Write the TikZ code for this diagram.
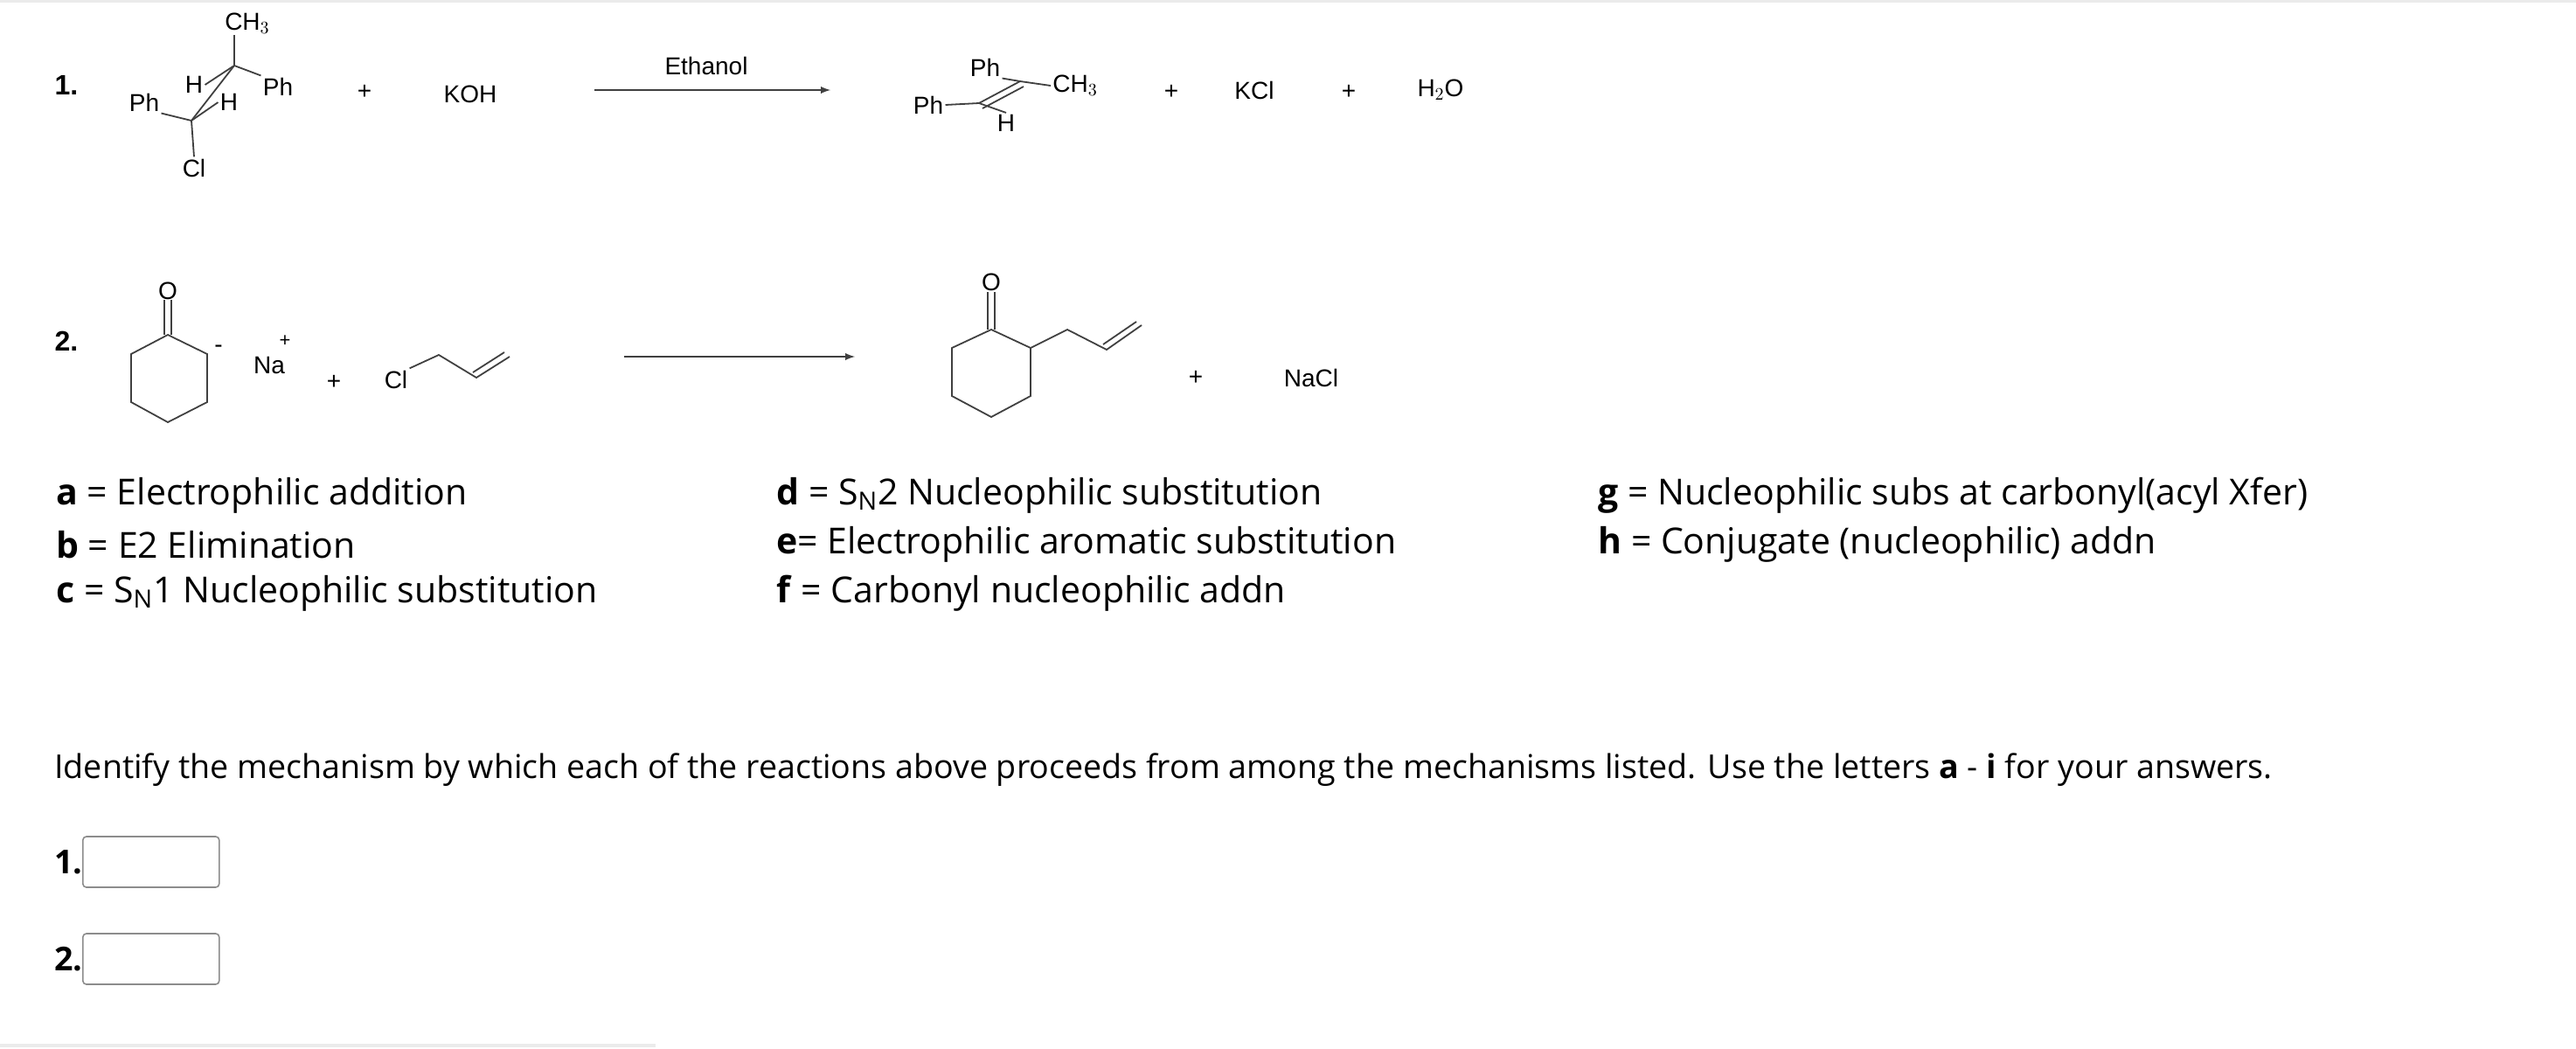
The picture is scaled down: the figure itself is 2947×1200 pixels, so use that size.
\documentclass[tikz,border=0pt]{standalone}
\usepackage{fontspec}
\setmainfont{Open Sans}
\newfontfamily\arial{Liberation Sans}
\begin{document}
\begin{tikzpicture}[x=0.5pt,y=-0.5pt,
  chem/.style={font=\arial\fontsize{14}{16}\selectfont,inner sep=1pt},
  num/.style={font=\arial\bfseries\fontsize{16}{18}\selectfont},
  txt/.style={font=\fontsize{20.5}{24}\selectfont,anchor=west,inner sep=0pt},
  qtxt/.style={font=\fontsize{18.8}{22}\selectfont,anchor=west,inner sep=0pt},
  bond/.style={line width=0.9pt,black!75},
  ansbox/.style={draw=black!45,line width=0.8pt,rounded corners=2pt,minimum width=78pt,minimum height=29pt,inner sep=0pt}]
\useasboundingbox (0,0) rectangle (2947,1200);
\draw[black!8,line width=2pt] (0,1) -- (2947,1);
\draw[black!8,line width=2pt] (0,1196) -- (750,1196);
% Reaction 1
\node[num] (n1) at (76,97) {1.};
\coordinate (c1) at (268,75);
\coordinate (c2) at (219,138);
\node[chem] (me) at (283,27) {CH$_3$};
\node[chem] (ph1) at (165,117) {Ph};
\node[chem] (ph2) at (318,99) {Ph};
\node[chem] (h1) at (222,97) {H};
\node[chem] (h2) at (262,117) {H};
\node[chem] (cl1) at (222,192) {Cl};
\draw[bond] (268,40) -- (c1) -- (c2) -- (cl1.north);
\draw[bond] (c1) -- (ph2.north west);
\draw[bond] (c1) -- (h1.east);
\draw[bond] (c2) -- (ph1.south east);
\draw[bond] (c2) -- (h2.west);
\node[chem] (p1) at (417,105) {+};
\node[chem] (koh) at (538,108) {KOH};
\coordinate (a1s) at (680,103); \coordinate (a1e) at (950,103);
\draw[bond,-latex] (a1s) -- (a1e);
\node[chem] (eth) at (808,75) {Ethanol};
% product 1
\coordinate (d1) at (1120,118); \coordinate (d2) at (1167,93);
\node[chem] (pp1) at (1062,120) {Ph};
\node[chem] (pp2) at (1127,77) {Ph};
\node[chem,anchor=west] (pme) at (1202,98) {CH$_3$};
\node[chem] (ph) at (1151,141) {H};
\draw[bond] (pp1.east) -- (d1) -- (d2) -- (pme.west);
\draw[bond] ([shift={(4,6)}]d1) -- ([shift={(4,6)}]d2);
\draw[bond] (d1) -- (ph.north);
\draw[bond] (d2) -- (pp2.south east);
\node[chem] (p2) at (1340,105) {+};
\node[chem] (kcl) at (1435,103) {KCl};
\node[chem] (p3) at (1543,105) {+};
\node[chem] (h2o) at (1648,103) {H$_2$O};
% Reaction 2
\node[num] (n2) at (76,390) {2.};
\node[chem] (o1) at (192,333) {O};
\draw[bond] (192,383) -- (237,405) -- (237,460) -- (192,483) -- (150,460) -- (150,405) -- cycle;
\draw[bond] (188,383) -- (188,343); \draw[bond] (196,383) -- (196,343);
\node[chem] (minus) at (250,399) {-};
\node[chem] (na) at (308,418) {Na};
\node[chem,font=\arial\fontsize{11}{12}\selectfont] (nap) at (326,390) {+};
\node[chem] (p4) at (382,437) {+};
\node[chem] (cl2) at (453,434) {Cl};
\draw[bond] (cl2.north east) -- (502,406) -- (545,432) -- (583,408);
\draw[bond] (541,426) -- (577,403);
\coordinate (a2s) at (714,408); \coordinate (a2e) at (978,408);
\draw[bond,-latex] (a2s) -- (a2e);
\node[chem] (o2) at (1134,323) {O};
\draw[bond] (1134,377) -- (1179,398) -- (1179,453) -- (1134,477) -- (1089,453) -- (1089,398) -- cycle;
\draw[bond] (1130,377) -- (1130,334); \draw[bond] (1138,377) -- (1138,334);
\draw[bond] (1179,398) -- (1221,377) -- (1266,400) -- (1306,372);
\draw[bond] (1262,394) -- (1300,368);
\node[chem] (p5) at (1368,432) {+};
\node[chem] (nacl) at (1500,432) {NaCl};
% mechanism list
\node[txt] (ma) at (64,567) {\textbf{a} = Electrophilic addition};
\node[txt] (mb) at (64,623) {\textbf{b} = E2 Elimination};
\node[txt] (mc) at (64,679) {\textbf{c} = S$_{\mathrm{N}}$1 Nucleophilic substitution};
\node[txt] (md) at (888,567) {\textbf{d} = S$_{\mathrm{N}}$2 Nucleophilic substitution};
\node[txt] (me2) at (888,623) {\textbf{e}= Electrophilic aromatic substitution};
\node[txt] (mf) at (888,679) {\textbf{f} = Carbonyl nucleophilic addn};
\node[txt] (mg) at (1828,567) {\textbf{g} = Nucleophilic subs at carbonyl(acyl Xfer)};
\node[txt] (mh) at (1828,623) {\textbf{h} = Conjugate (nucleophilic) addn};
\node[qtxt] (q) at (62,881) {Identify the mechanism by which each of the reactions above proceeds from among the mechanisms listed. Use the letters \textbf{a} - \textbf{i} for your answers.};
\node[qtxt] (l1) at (62,986) {\textbf{1.}};
\node[ansbox,anchor=west] (b1) at (94,986) {};
\node[qtxt] (l2) at (62,1097) {\textbf{2.}};
\node[ansbox,anchor=west] (b2) at (94,1097) {};
\end{tikzpicture}
\end{document}
